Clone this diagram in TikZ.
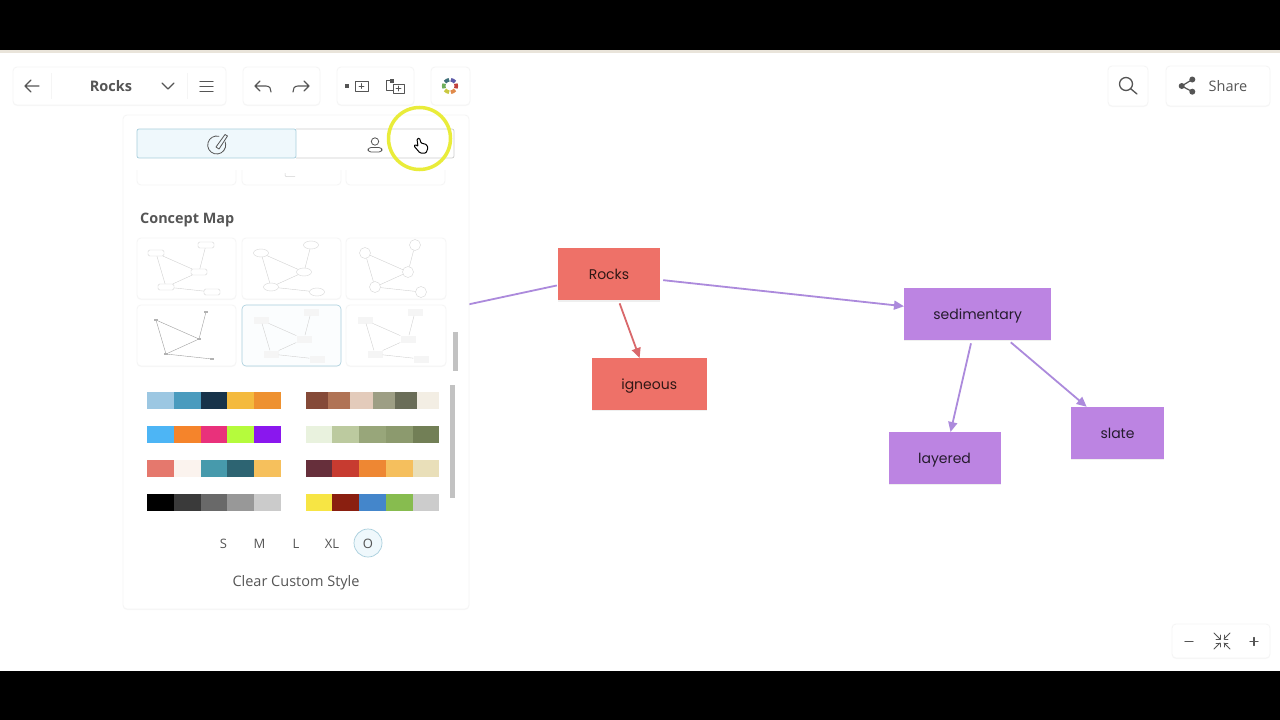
\documentclass[tikz,border=0pt]{standalone}
\usepackage{fontspec}
\setmainfont{Open Sans}
\newfontfamily\mapfont{Poppins}
\usetikzlibrary{arrows.meta,shadows,shapes.geometric}
\definecolor{rockred}{HTML}{EE7168}
\definecolor{rockpurple}{HTML}{BC84E2}
\definecolor{linkred}{HTML}{D9686B}
\definecolor{linkpurple}{HTML}{AC8ADC}
\definecolor{uitext}{HTML}{555555}
\definecolor{cardline}{HTML}{F5F5F5}
\definecolor{tabblue}{HTML}{EFF8FC}
\definecolor{tabline}{HTML}{A8CEDC}
\definecolor{markyellow}{HTML}{E9EC3A}
\definecolor{barcream}{HTML}{E9E4DA}
\tikzset{
	mapnode/.style={font=\mapfont\fontsize{14}{16}\selectfont, text=black!80!#1, text height=12pt, text depth=1pt, fill=#1, inner sep=0pt, drop shadow={shadow xshift=0pt, shadow yshift=-1.2pt, opacity=.12}},
	maplink/.style={line width=1.8pt, draw=#1, shorten <=3pt, -{Triangle[length=10pt,width=9pt,fill=#1]}},
	card/.style={draw=cardline, fill=white, rounded corners=4pt, line width=.8pt, drop shadow={shadow xshift=0pt, shadow yshift=-1pt, opacity=.05}},
	uilabel/.style={text=uitext, inner sep=0pt, font=\fontsize{14.5}{16}\selectfont},
	icon/.style={draw=uitext, line width=1.1pt, line cap=round, line join=round},
	minibox/.style={draw=black!16, line width=.4pt, rounded corners=1.5pt, minimum width=16pt, minimum height=6pt, inner sep=0pt},
	miniround/.style={draw=black!16, line width=.4pt, ellipse, minimum width=15pt, minimum height=8pt, inner sep=0pt},
	minicircle/.style={draw=black!16, line width=.4pt, circle, minimum size=11pt, inner sep=0pt},
	minidot/.style={fill=black!30, minimum width=4pt, minimum height=2pt, inner sep=0pt},
	miniblur/.style={fill=black!4, minimum width=15pt, minimum height=7pt, inner sep=0pt},
	minilink/.style={draw=black!18, line width=.4pt},
	darklink/.style={draw=black!38, line width=.4pt},
	pics/thumbmap/.style 2 args={code={
		\node[#1] (-a) at (19,15){};
		\node[#1] (-b) at (69,7){};
		\node[#1] (-c) at (62,34){};
		\node[#1] (-d) at (29,49){};
		\node[#1] (-e) at (75,54){};
		\draw[#2] (-a)--(-d);
		\draw[#2] (-a)--(-c);
		\draw[#2] (-b)--(-c);
		\draw[#2] (-c)--(-d);
		\draw[#2] (-d)--(-e);
	}}
}
% one row of colour swatches
\newcommand{\swatchrow}[4]{
	\foreach \hex [count=\i from 0] in {#4}{
		\definecolor{swatch}{HTML}{\hex}
		\fill[swatch] ({#1+\i*#3},#2) rectangle ({#1+(\i+1)*#3},#2+17);
	}
}
\begin{document}
\begin{tikzpicture}[x=1pt,y=-1pt]
	\useasboundingbox (0,0) rectangle (1280,720);
	\fill[white] (0,0) rectangle (1280,720);

	%concept map nodes
	\node[mapnode=rockred, minimum width=102pt, minimum height=52pt] (rocks) at (609,274.3){Rocks};
	\node[mapnode=rockred, minimum width=115pt, minimum height=52pt] (igneous) at (649.2,384.2){igneous};
	\node[mapnode=rockpurple, minimum width=147pt, minimum height=52pt] (sedimentary) at (977.7,314.2){sedimentary};
	\node[mapnode=rockpurple, minimum width=112pt, minimum height=52pt] (layered) at (944.5,458.2){layered};
	\node[mapnode=rockpurple, minimum width=93pt, minimum height=52pt] (slate) at (1117.5,433){slate};
	\coordinate (offpanel) at (440,310.5);

	%links
	\draw[line width=1.8pt, draw=linkpurple, shorten <=1pt] (rocks)--(offpanel);
	\draw[maplink=linkred] (rocks)--(igneous);
	\draw[maplink=linkpurple] (rocks)--(sedimentary);
	\draw[maplink=linkpurple] (sedimentary)--(layered);
	\draw[maplink=linkpurple] (sedimentary)--(slate);

	%window bars
	\fill[black] (0,0) rectangle (1280,50);
	\fill[black] (0,671) rectangle (1280,720);
	\fill[barcream] (0,50) rectangle (1280,53);

	%toolbar
	\draw[card] (13,67) rectangle (226,105);
	\draw[card] (243,67) rectangle (320,105);
	\draw[card] (337,67) rectangle (414,105);
	\draw[card] (431,67) rectangle (470,105);
	\draw[card] (1108,66) rectangle (1148,106);
	\draw[card] (1166,66) rectangle (1270,106);
	\draw[card] (1172,624) rectangle (1270,658);
	\foreach \x in {51,187}{
		\draw[cardline, line width=.8pt] (\x,73)--(\x,99);
	}
	\draw[icon] (39,86)--(25,86) (31,80)--(25,86)--(31,92);
	\node[uilabel, font=\bfseries\fontsize{14.5}{16}\selectfont] (title) at (111,86.5){Rocks};
	\draw[icon] (162,83)--(168,89)--(174,83);
	\foreach \y in {81.5,86.5,91.5}{
		\draw[icon] (200,\y)--(213,\y);
	}
	%undo and redo
	\draw[icon] (260,81)--(255,86)--(260,91) (255,86)--(266,86) .. controls (270,86) and (271,89) .. (271,92);
	\draw[icon] (304,81)--(309,86)--(304,91) (309,86)--(298,86) .. controls (294,86) and (293,89) .. (293,92);
	%add topic icons
	\fill[uitext] (345,84) rectangle (349,88);
	\draw[icon, line width=.8pt] (355,81) rectangle (368,91) (359,86)--(364,86) (361.5,83.5)--(361.5,88.5);
	\fill[uitext] (390,79) rectangle (394,83);
	\draw[icon, line width=.8pt] (393,84) rectangle (404,93) (396,88.5)--(401,88.5) (398.5,86)--(398.5,91);
	\draw[icon, line width=.8pt] (390,80)--(386,80)--(386,90)--(393,90);
	%colour wheel
	\foreach \a/\wheel in {60/5C5AA8, 0/C0403C, -60/E08A4A, -120/C9C840, 180/6FAE5A, 120/3F6F78}{
		\definecolor{wheelpart}{HTML}{\wheel}
		\draw[wheelpart, line width=3.6pt] (450,86) ++(\a-22:6.3pt) arc[start angle=\a-22, end angle=\a+22, radius=6.3pt];
	}
	%search and share
	\draw[icon, line width=1.3pt] (1126,84) circle (6.5) (1131,89)--(1137,94);
	\coordinate (sharea) at (1181.7,86);
	\coordinate (shareb) at (1192.3,79.5);
	\coordinate (sharec) at (1192.3,91.7);
	\fill[uitext] (sharea) circle (3) (shareb) circle (3) (sharec) circle (3);
	\draw[uitext, line width=1.2pt] (shareb)--(sharea)--(sharec);
	\node[uilabel] (share) at (1228,86.5){Share};
	%zoom buttons
	\draw[icon, line width=1.3pt] (1185,641.5)--(1193,641.5);
	\draw[icon, line width=1.3pt] (1250,641.5)--(1258,641.5) (1254,637.5)--(1254,645.5);
	\foreach \sx/\sy in {-1/-1,1/-1,-1/1,1/1}{
		\draw[icon, line width=.9pt] ({1222+2*\sx},{641+2*\sy})--({1222+8*\sx},{641+8*\sy});
		\draw[icon, line width=.9pt] ({1222+2*\sx},{641+6*\sy})--({1222+2*\sx},{641+2*\sy})--({1222+6*\sx},{641+2*\sy});
	}

	%side panel
	\draw[card] (123,115) rectangle (469,609);
	\fill[tabblue] (137,129) rectangle (296,158);
	\draw[black!20, line width=.7pt, rounded corners=2pt] (296,129)--(454,129)--(454,158)--(296,158);
	\draw[tabline, line width=.7pt, rounded corners=2pt] (296,129)--(137,129)--(137,158)--(296,158)--cycle;
	\draw[icon, line width=.8pt] (216.7,145) ++(75:9pt) arc[start angle=75, end angle=380, radius=9pt];
	\draw[icon, line width=.8pt] (216,147)--(225,134.5)--(227.5,136)--(219,149)--cycle;
	\draw[icon, line width=.8pt] (375,141.5) circle (3.7);
	\draw[icon, line width=.8pt, rounded corners=3pt] (368,152)--(368,147.5)--(382,147.5)--(382,152)--cycle;

	%clipped row of cards
	\foreach \x in {137,242,346}{
		\draw[cardline, line width=.8pt, rounded corners=4pt] (\x,170)--(\x,185)--(\x+99,185)--(\x+99,170);
	}
	\draw[black!18, line width=.5pt, rounded corners=1pt] (285,173)--(285,176.5)--(295,176.5);
	\node[uilabel, anchor=west, font=\bfseries\fontsize{14.4}{16}\selectfont] (heading) at (140,220.5){Concept Map};

	%thumbnails
	\draw[card] (137,238) rectangle (236,299);
	\draw[card] (242,238) rectangle (341,299);
	\draw[card] (346,238) rectangle (446,299);
	\draw[card] (137,305) rectangle (236,366);
	\draw[card, draw=tabline, line width=.6pt, fill=tabblue!25] (242,305) rectangle (341,366);
	\draw[card] (346,305) rectangle (446,366);
	\foreach \thumb/\tx/\ty/\kind/\linkkind in {ta/137/238/minibox/minilink, tb/242/238/miniround/minilink, tc/346/238/minicircle/minilink, td/137/305/minidot/darklink, te/242/305/miniblur/minilink, tf/346/305/miniblur/minilink}{
		\pic (\thumb) at (\tx,\ty) {thumbmap={\kind}{\linkkind}};
	}
	\fill[black!24] (453,332) rectangle (458,371);
	\fill[black!24] (450,385) rectangle (455,498);

	%palettes
	\swatchrow{147}{391.7}{26.8}{9CC7E2,4A9BBE,17334A,F4BA3E,EE9130}
	\swatchrow{147}{426}{26.8}{4DB5F5,F5842B,E9317B,B5FB3C,8A17EE}
	\swatchrow{147}{460}{26.8}{E5786D,FBF3EE,479AAC,2D6472,F6C05C}
	\swatchrow{147}{494.3}{26.8}{000000,3A3A3A,696969,989898,CBCBCB}
	\swatchrow{305.7}{391.7}{22.27}{854A38,B07355,E3CBBB,9D9E84,6A6D58,F3EEE4}
	\swatchrow{305.7}{426}{26.72}{E9F2DE,BCCA9F,98A67A,8C9A6E,727F56}
	\swatchrow{305.7}{460}{26.72}{662F3B,C73B30,EE8733,F5BF5D,E9DFB9}
	\swatchrow{305.7}{494.3}{26.72}{F7E544,8A1F10,4486CB,87BC4F,CCCCCC}

	%size buttons
	\node[circle, fill=tabblue, draw=tabline, line width=.7pt, minimum size=28pt, inner sep=0pt] (sizering) at (368,543){};
	\foreach \size/\x in {S/223.5,M/259.5,L/296,XL/332,O/368}{
		\node[uilabel, font=\fontsize{13}{14}\selectfont] (size\size) at (\x,544){\size};
	}
	\node[uilabel] (clearstyle) at (296,583){Clear Custom Style};

	%pointer highlight
	\draw[markyellow, line width=3.5pt] (419.5,138.5) circle (31);
	\draw[black, fill=white, line width=1pt, line join=round, rounded corners=1pt] (420,153)--(414,146)--(415.5,144.5)--(418,146.5)--(417,139)--(419.5,138)--(421,143)--(426.5,144.5)--(428,148)--(426,153)--cycle;
\end{tikzpicture}
\end{document}
